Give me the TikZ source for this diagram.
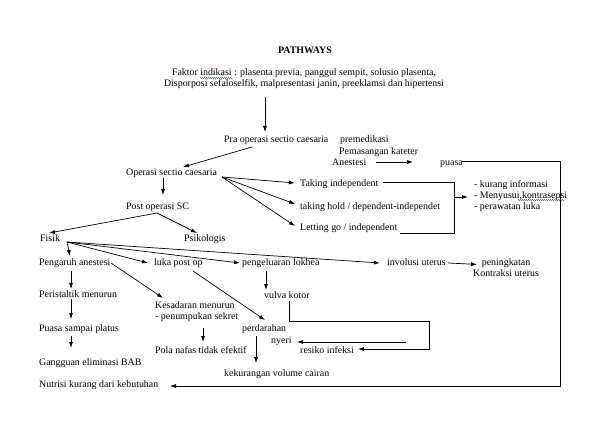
\documentclass[tikz,border=0pt]{standalone}
\usepackage{fontspec}
\setmainfont{Liberation Serif}
\usepackage{tikz}
\usetikzlibrary{positioning,calc,arrows.meta,decorations.pathmorphing}
\tikzset{
  lbl/.style   = {inner sep=1pt, anchor=west, text height=6.5pt, text depth=2pt,
                  font=\fontsize{9.9}{10.8}\selectfont},
  blk/.style   = {lbl, text height=, text depth=},
  edge/.style  = {->, >={Latex[length=6pt,width=4pt]}, line width=0.7pt},
  wire/.style  = {line width=0.7pt},
  spell/.style = {green!55!black, line width=0.4pt,
                  decorate, decoration={snake, amplitude=0.6pt, segment length=2pt}}
}
\begin{document}
\begin{tikzpicture}[x=1pt, y=-1pt]
      \useasboundingbox[fill=white] (0,0) rectangle (596,430);
      \node[lbl, anchor=center, font=\fontsize{9.9}{10.8}\selectfont\bfseries] (title) at (305,51) {PATHWAYS};
      \node[blk, anchor=center, align=center] (faktor) at (304,79)
        {Faktor indikasi : plasenta previa, panggul sempit, solusio plasenta,\\
         Disporposi sefaloselfik, malpresentasi janin, preeklamsi dan hipertensi};
      \node[lbl] (pra) at (223,140) {Pra operasi sectio caesaria};
      \node[lbl] (premed) at (339,140) {premedikasi};
      \node[lbl] (pasang) at (338,152) {Pemasangan kateter};
      \node[lbl] (anest) at (331,163) {Anestesi};
      \node[lbl] (puasa) at (439,163) {puasa};
      \node[lbl] (operasi) at (125,173) {Operasi sectio caesaria};
      \node[lbl] (ti) at (299,184) {Taking independent};
      \node[lbl] (th) at (299,207) {taking hold / dependent-independet};
      \node[lbl] (lg) at (299,228) {Letting go / independent};
      \node[blk, align=left, font=\fontsize{9.9}{11.4}\selectfont] (info) at (473,196)
        {- kurang informasi\\- Menyusui,kontrasepsi\\- perawatan luka};
      \node[lbl] (post) at (125,207) {Post operasi SC};
      \node[lbl] (fisik) at (39,239) {Fisik};
      \node[lbl] (psiko) at (183,239) {Psikologis};
      \node[lbl] (pengaruh) at (38,263) {Pengaruh anestesi};
      \node[lbl] (luka) at (153,263) {luka post op};
      \node[lbl] (lokhea) at (241,263) {pengeluaran lokhea};
      \node[lbl] (involusi) at (386,263) {involusi uterus};
      \node[blk, anchor=center, align=center] (pening) at (506,268) {peningkatan\\Kontraksi uterus};
      \node[lbl] (peris) at (38,295) {Peristaltik menurun};
      \node[lbl] (platus) at (38,329) {Puasa sampai platus};
      \node[lbl] (bab) at (38,363) {Gangguan eliminasi BAB};
      \node[lbl] (nutrisi) at (38,385) {Nutrisi kurang dari kebutuhan};
      \node[blk, align=left] (sadar) at (154,312) {Kesadaran menurun\\- penumpukan sekret};
      \node[lbl] (pola) at (154,351) {Pola nafas tidak efektif};
      \node[lbl] (vulva) at (263,296) {vulva kotor};
      \node[lbl] (perdarahan) at (241,329) {perdarahan};
      \node[lbl] (nyeri) at (270,341) {nyeri};
      \node[lbl] (infeksi) at (299,351) {resiko infeksi};
      \node[lbl] (kvc) at (223,374) {kekurangan volume cairan};
      \coordinate (nyerisrc) at (406,342);
      \draw[edge] ($(faktor.center)+(-39,18)$) -- ($(pra.west)+(42,-8)$);
      \draw[edge] ($(pra.west)+(29,7)$) -- ($(operasi.west)+(58,-6)$);
      \draw[edge] ($(anest.west)+(45,-1)$) -- ($(puasa.west)+(-26,-1)$);
      \draw[edge] ($(operasi.west)+(97,4)$) -- ($(ti.west)+(-4,-1)$);
      \draw[edge] ($(operasi.west)+(97,4)$) -- ($(th.west)+(-4,-3)$);
      \draw[edge] ($(operasi.west)+(97,4)$) -- ($(lg.west)+(-4,-2)$);
      \draw[wire] ($(ti.west)+(84,-2)$) -| ($(lg.west)+(155,5)$) -- ($(lg.west)+(101,5)$);
      \draw[edge] ($(info.west)+(-19,1)$) -- ($(info.west)+(-5,1)$);
      \draw[edge] ($(operasi.west)+(38,5)$) -- ($(post.west)+(38,-12)$);
      \draw[edge] ($(post.west)+(32,6)$) -- ($(fisik.west)+(10,-6)$);
      \draw[edge] ($(post.west)+(32,6)$) -- ($(psiko.west)+(14,-6)$);
      \draw[edge] ($(fisik.west)+(28,3)$) -- ($(pengaruh.west)+(32,-7)$);
      \draw[edge] ($(fisik.west)+(28,3)$) -- ($(luka.west)+(-5,0)$);
      \draw[edge] ($(fisik.west)+(28,3)$) -- ($(lokhea.west)+(-1,0)$);
      \draw[edge] ($(fisik.west)+(28,3)$) -- ($(involusi.west)+(-6,0)$);
      \draw[edge] ($(involusi.west)+(62,0)$) -- ($(pening.north)+(-29,6.5)$);
      \draw[edge] ($(pengaruh.west)+(33,8)$) -- ($(peris.west)+(33,-6)$);
      \draw[edge] ($(peris.west)+(33,4)$) -- ($(platus.west)+(33,-10)$);
      \draw[edge] ($(platus.west)+(33,7)$) -- ($(bab.west)+(33,-15)$);
      \draw[edge] ($(pengaruh.west)+(73,0)$) -- ($(sadar.west)+(9,-14)$);
      \draw[edge] ($(sadar.west)+(49,16)$) -- ($(pola.west)+(49,-9)$);
      \draw[edge] ($(luka.west)+(40,8)$) -- ($(perdarahan.west)+(24,-9)$);
      \draw[edge] ($(perdarahan.west)+(15,7)$) -- ($(kvc.west)+(33,-11)$);
      \draw[edge] ($(lokhea.west)+(25,8)$) -- ($(vulva.west)+(3,-6)$);
      \draw[edge] ($(vulva.west)+(26,5)$) |- ($(vulva.west)+(166,25)$) |- ($(infeksi.west)+(59,-2)$);
      \draw[edge] (nyerisrc) -- ($(nyeri.west)+(27,1)$);
      \draw[edge] ($(puasa.west)+(23,-2)$) -| ($(nutrisi.west)+(522,1)$) -- ($(nutrisi.west)+(132,1)$);
      \draw[spell] (200,78) -- (233,78);
      \draw[spell] (518,200) -- (565,200);
    \end{tikzpicture}
\end{document}
